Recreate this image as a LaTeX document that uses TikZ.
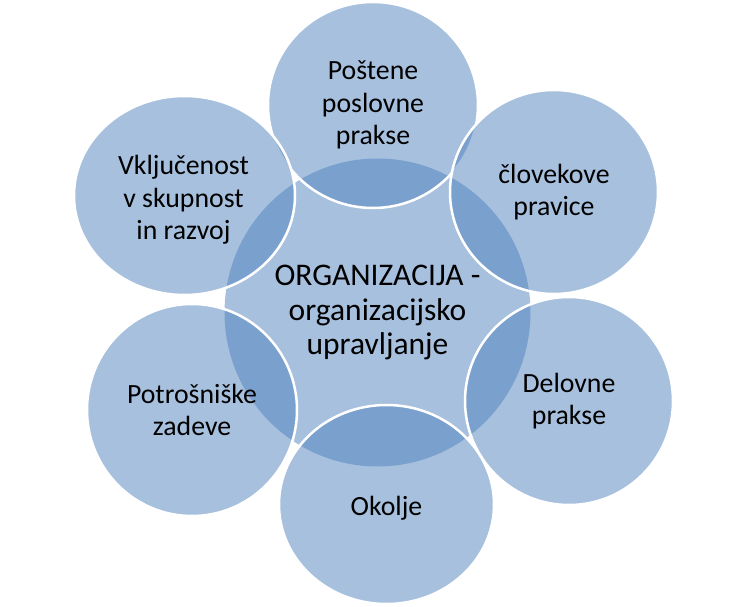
\documentclass[tikz,border=0pt]{standalone}
\usepackage{fontspec}
\setmainfont{Carlito}
\usetikzlibrary{shapes.geometric}
\definecolor{acc}{RGB}{79,129,189}
\begin{document}
\begin{tikzpicture}[x=1pt,y=-1pt,
  petal/.style={ellipse, fill=acc, fill opacity=0.5, text opacity=1, draw=white, line width=2.5pt, inner sep=0pt, outer sep=0pt, align=center, font=\fontsize{27.8}{32.5}\selectfont},
  petaltext/.style={inner sep=0pt, align=center, font=\fontsize{27.8}{32.5}\selectfont},
  hub/.style={ellipse, fill=acc, fill opacity=0.5, text opacity=1, inner sep=0pt, outer sep=0pt, align=center, font=\fontsize{31.5}{34.5}\selectfont}]
\useasboundingbox (0,0) rectangle (750,607);
\node[hub, minimum width=306pt, minimum height=308pt] (hub) at (377.5,312.5) {ORGANIZACIJA -\\organizacijsko\\upravljanje};
\node[petal, minimum width=210pt, minimum height=206pt] (top) at (373,105) {Poštene\\poslovne\\prakse};
\node[petal, minimum width=208pt, minimum height=204pt] (tr) at (554,192) {človekove\\pravice};
\node[petal, minimum width=208pt, minimum height=208pt] (rt) at (569,401) {Delovne\\prakse};
\node[petal, minimum width=215pt, minimum height=199pt] (bot) at (386.5,504.5) {};
\node[petaltext] (botT) at (386.5,508.5) {Okolje};
\node[petal, minimum width=210pt, minimum height=212pt] (lt) at (192,410) {Potrošniške\\zadeve};
\node[petal, minimum width=221pt, minimum height=199pt] (tl) at (184.5,195.5) {};
\node[petaltext] (tlT) at (183.5,200) {Vključenost\\v skupnost\\in razvoj};
\end{tikzpicture}
\end{document}
